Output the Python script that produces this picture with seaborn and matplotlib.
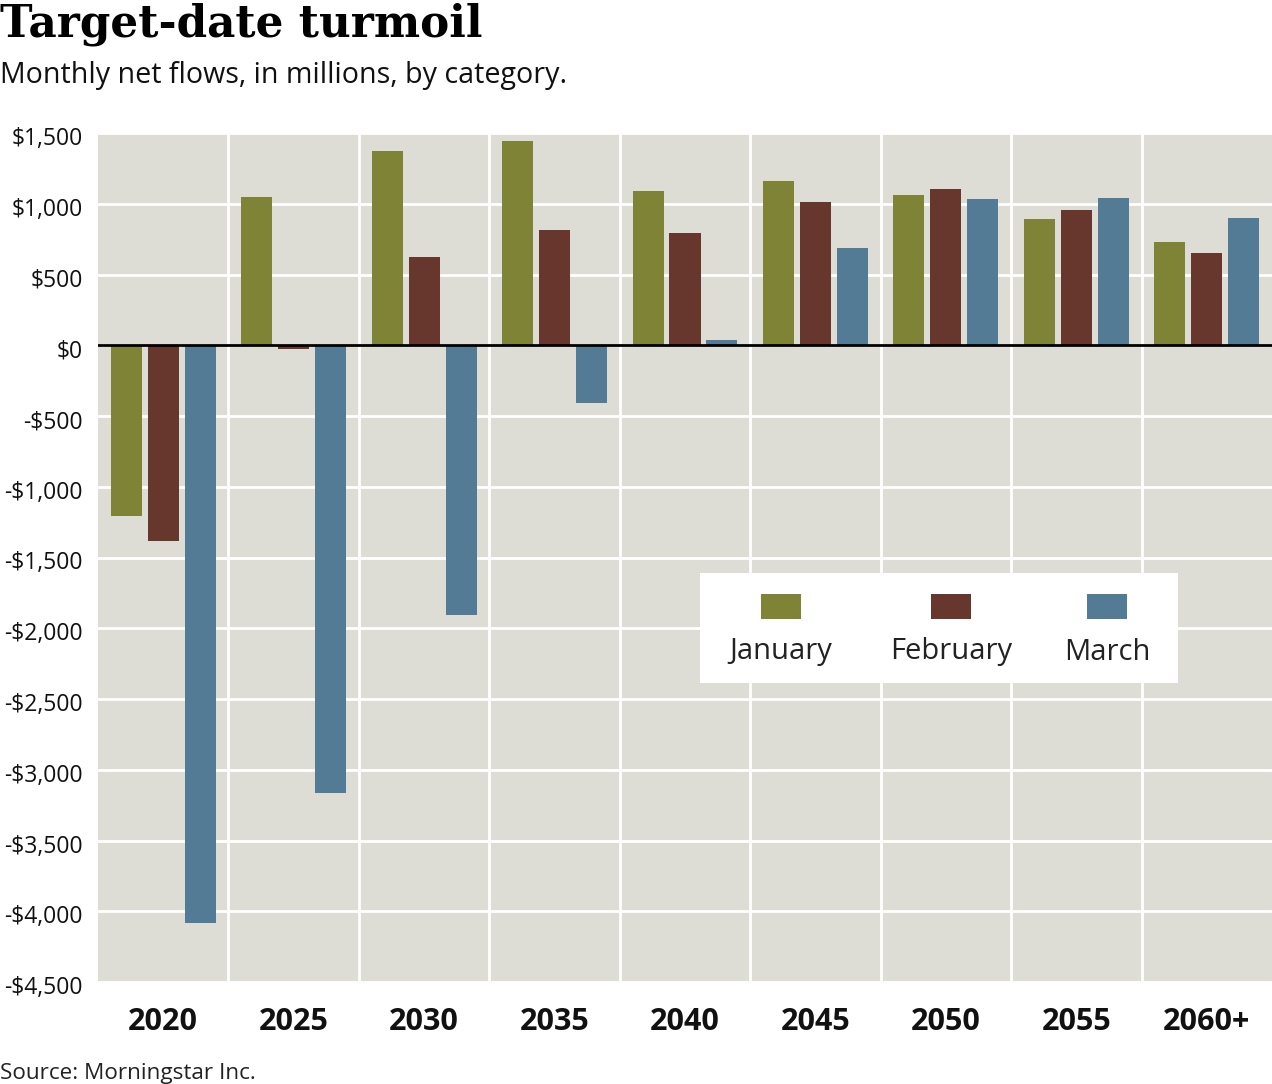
import numpy as np
import pandas as pd
import matplotlib
matplotlib.use('Agg')
import matplotlib.pyplot as plt
import matplotlib.transforms as mtransforms
import seaborn as sns
from matplotlib.patches import Rectangle

# data (millions of dollars)
categories = ['2020', '2025', '2030', '2035', '2040', '2045', '2050', '2055', '2060+']
months = ['January', 'February', 'March']
january = [-1210, 1050, 1370, 1445, 1090, 1160, 1060, 895, 730]
february = [-1380, -25, 625, 815, 795, 1010, 1105, 955, 650]
march = [-4085, -3165, -1905, -410, 40, 685, 1035, 1040, 900]
y_ticks = [1500, 1000, 500, 0, -500, -1000, -1500, -2000, -2500, -3000, -3500, -4000, -4500]

colors = ['#7f8335', '#67372d', '#537b95']
bg = '#dddcd5'

df = pd.DataFrame({
    'category': categories * 3,
    'month': [m for m in months for _ in categories],
    'value': january + february + march,
})

sns.set_theme(style='white')
plt.rcParams['font.family'] = ['Open Sans', 'DejaVu Sans']

fig = plt.figure(figsize=(12.72, 10.84), dpi=100)
ax = fig.add_axes([98 / 1272, 1 - 982 / 1084, 1 - 98 / 1272, (982 - 133) / 1084])
ax.set_facecolor(bg)

sns.barplot(data=df, x='category', y='value', hue='month', order=categories,
            hue_order=months, palette=colors, width=0.85, gap=0.16,
            saturation=1, linewidth=0, legend=False, ax=ax, zorder=3)

ax.set_ylim(-4500, 1500)
ax.set_xlim(-0.5, len(categories) - 0.5)
ax.set_yticks(y_ticks)
ax.set_yticklabels([('-' if v < 0 else '') + '${:,}'.format(abs(v)) for v in y_ticks],
                   fontsize=16.5, color='#111111')
ax.set_xticks(range(len(categories)))
ax.set_xticklabels(categories, fontsize=22, fontweight='bold', color='#111111')
ax.tick_params(axis='both', length=0)
ax.tick_params(axis='x', pad=18)
ax.tick_params(axis='y', pad=11)
ax.set_xlabel('')
ax.set_ylabel('')

# nudge y labels a little below their gridlines
shift = mtransforms.ScaledTranslation(0, -3 / 100, fig.dpi_scale_trans)
for lbl in ax.get_yticklabels():
    lbl.set_transform(lbl.get_transform() + shift)

# gridlines
for v in y_ticks:
    ax.axhline(v, color='white', lw=2, zorder=1)
for i in range(1, len(categories)):
    ax.axvline(i - 0.5, color='white', lw=2, zorder=1)
ax.axhline(0, color='black', lw=2, zorder=4)
for s in ax.spines.values():
    s.set_visible(False)

# legend: swatches above labels in a white box
fig.patches.append(Rectangle((700 / 1272, 1 - 683 / 1084), 478 / 1272, 110 / 1084,
                             transform=fig.transFigure, facecolor='white',
                             edgecolor='none', zorder=5))
legend_x = [781, 951, 1107]
for lx, name, c in zip(legend_x, months, colors):
    fig.patches.append(Rectangle(((lx - 20) / 1272, 1 - 619 / 1084), 40 / 1272, 25 / 1084,
                                 transform=fig.transFigure, facecolor=c,
                                 edgecolor='none', zorder=6))
    fig.text(lx / 1272, 1 - 652 / 1084, name, ha='center', va='center',
             fontsize=21, color='#222222', zorder=6)

fig.text(0.0, 1 - 3 / 1084, 'Target-date turmoil', ha='left', va='top',
         fontsize=31.5, fontweight='bold', family=['DejaVu Serif'], color='black')
fig.text(0.0, 1 - 75 / 1084, 'Monthly net flows, in millions, by category.',
         ha='left', va='center', fontsize=20.6, color='#111111')
fig.text(0.0, 1 - 1073 / 1084, 'Source: Morningstar Inc.', ha='left', va='center',
         fontsize=16.2, color='#222222')

fig.savefig('out.png', dpi=100)
